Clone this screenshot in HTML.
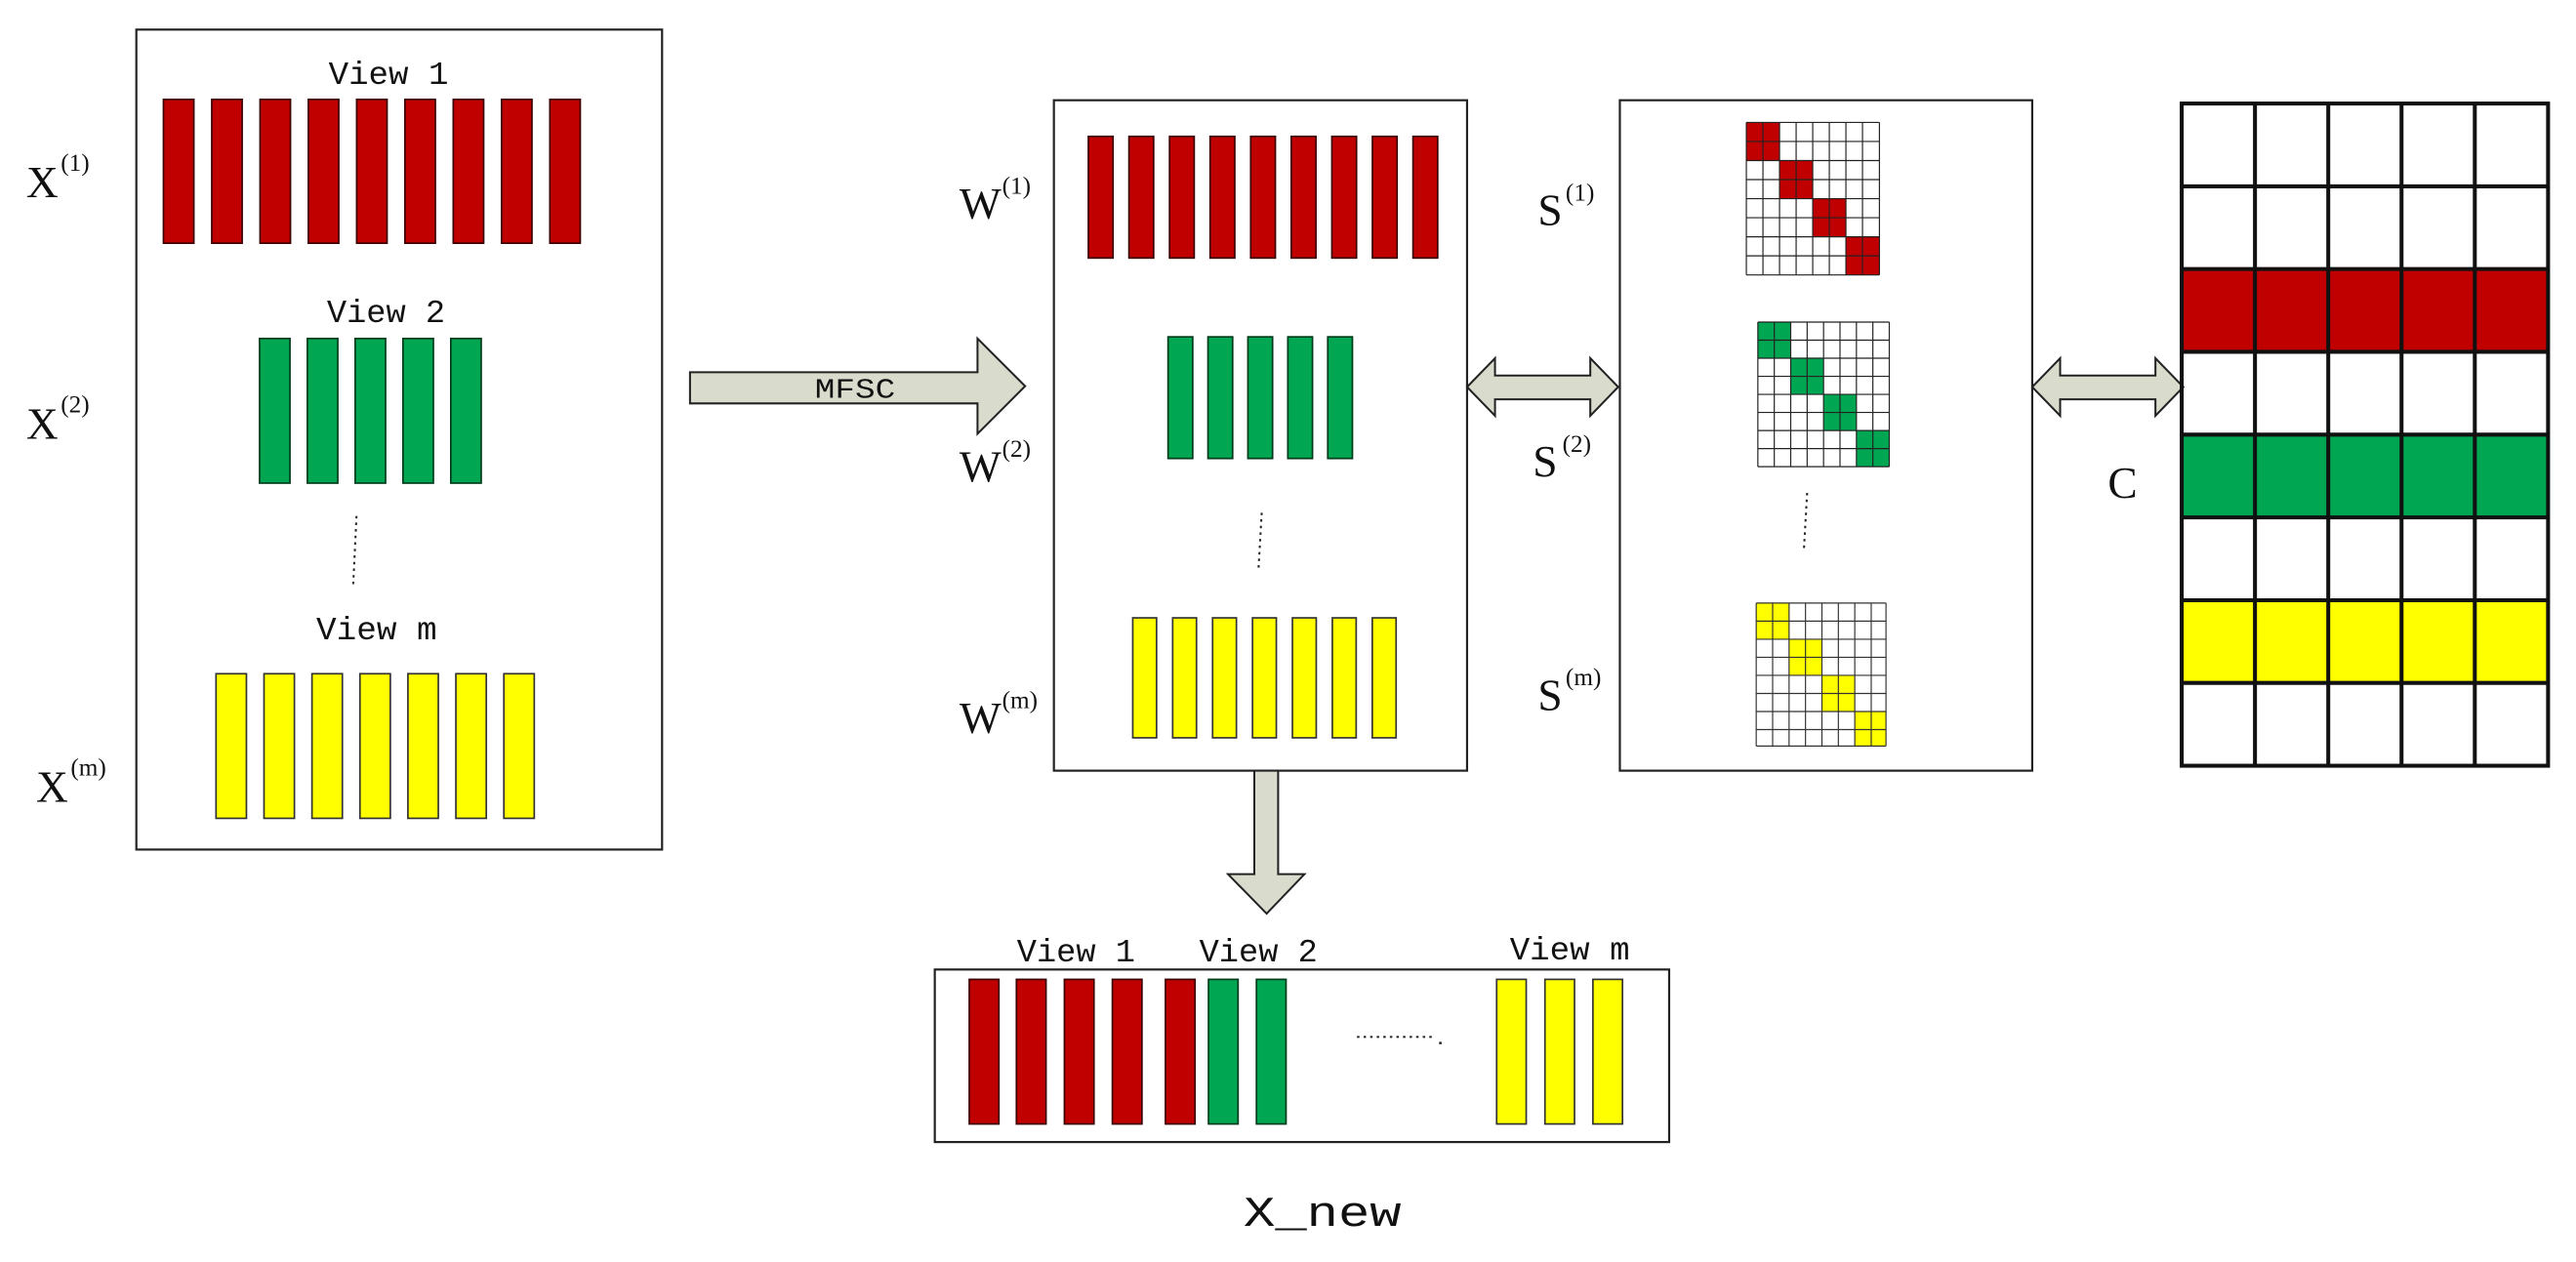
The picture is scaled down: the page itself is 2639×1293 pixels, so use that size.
<!DOCTYPE html>
<html><head><meta charset="utf-8"><style>html,body{margin:0;padding:0;background:#fff}svg{display:block}</style></head>
<body>
<svg width="2639" height="1293" viewBox="0 0 1568 768" preserveAspectRatio="none" xmlns="http://www.w3.org/2000/svg">
<defs>
<style>
.box{fill:#fff;stroke:#222;stroke-width:1.3}
.r{fill:#c00000;stroke:#3a0000;stroke-width:1}
.g{fill:#00a651;stroke:#003a1a;stroke-width:1}
.y{fill:#ffff00;stroke:#333;stroke-width:1}
.mono{font-family:"Liberation Mono",monospace;font-size:20px;fill:#111}
.ser{font-family:"Liberation Serif",serif;font-size:27px;fill:#111}
.sup{font-family:"Liberation Serif",serif;font-size:15px;fill:#111}
.arr{fill:#d9dccd;stroke:#222;stroke-width:1.2}
</style>
</defs>
<rect x="0" y="0" width="1568" height="768" fill="#fff"/>

<!-- Left box -->
<rect class="box" x="83" y="18" width="320" height="499"/>
<text class="mono" x="200" y="51" textLength="73" lengthAdjust="spacingAndGlyphs">View 1</text>
<g id="lr">
<rect class="r" x="99.5" y="60.5" width="18.5" height="87.5"/>
<rect class="r" x="128.9" y="60.5" width="18.5" height="87.5"/>
<rect class="r" x="158.3" y="60.5" width="18.5" height="87.5"/>
<rect class="r" x="187.7" y="60.5" width="18.5" height="87.5"/>
<rect class="r" x="217.1" y="60.5" width="18.5" height="87.5"/>
<rect class="r" x="246.5" y="60.5" width="18.5" height="87.5"/>
<rect class="r" x="275.9" y="60.5" width="18.5" height="87.5"/>
<rect class="r" x="305.3" y="60.5" width="18.5" height="87.5"/>
<rect class="r" x="334.7" y="60.5" width="18.5" height="87.5"/>
</g>
<text class="mono" x="199" y="196" textLength="72" lengthAdjust="spacingAndGlyphs">View 2</text>
<rect class="g" x="158" y="206" width="18.5" height="88"/>
<rect class="g" x="187.1" y="206" width="18.5" height="88"/>
<rect class="g" x="216.2" y="206" width="18.5" height="88"/>
<rect class="g" x="245.3" y="206" width="18.5" height="88"/>
<rect class="g" x="274.4" y="206" width="18.5" height="88"/>
<line x1="217" y1="314" x2="215" y2="356" stroke="#222" stroke-width="1.2" stroke-dasharray="1.5,2.5"/>
<text class="mono" x="192.5" y="389" textLength="73.5" lengthAdjust="spacingAndGlyphs">View m</text>
<rect class="y" x="131.5" y="410" width="18.5" height="88"/>
<rect class="y" x="160.7" y="410" width="18.5" height="88"/>
<rect class="y" x="189.9" y="410" width="18.5" height="88"/>
<rect class="y" x="219.1" y="410" width="18.5" height="88"/>
<rect class="y" x="248.3" y="410" width="18.5" height="88"/>
<rect class="y" x="277.5" y="410" width="18.5" height="88"/>
<rect class="y" x="306.7" y="410" width="18.5" height="88"/>
<text class="ser" x="16" y="120">X</text><text class="sup" x="37" y="104">(1)</text>
<text class="ser" x="16" y="267">X</text><text class="sup" x="37" y="251">(2)</text>
<text class="ser" x="22" y="488">X</text><text class="sup" x="43" y="472">(m)</text>

<!-- MFSC arrow -->
<polygon class="arr" points="420,226.5 595,226.5 595,206 624,235 595,264 595,245.5 420,245.5"/>
<text class="mono" x="496" y="242" textLength="49" lengthAdjust="spacingAndGlyphs" style="font-size:17px">MFSC</text>

<!-- W box -->
<rect class="box" x="641.5" y="61" width="251.5" height="408"/>
<rect class="r" x="662.5" y="83" width="15" height="74"/>
<rect class="r" x="687.2" y="83" width="15" height="74"/>
<rect class="r" x="711.9" y="83" width="15" height="74"/>
<rect class="r" x="736.6" y="83" width="15" height="74"/>
<rect class="r" x="761.3" y="83" width="15" height="74"/>
<rect class="r" x="786" y="83" width="15" height="74"/>
<rect class="r" x="810.7" y="83" width="15" height="74"/>
<rect class="r" x="835.4" y="83" width="15" height="74"/>
<rect class="r" x="860.1" y="83" width="15" height="74"/>
<rect class="g" x="711" y="205" width="15" height="74"/>
<rect class="g" x="735.3" y="205" width="15" height="74"/>
<rect class="g" x="759.6" y="205" width="15" height="74"/>
<rect class="g" x="783.9" y="205" width="15" height="74"/>
<rect class="g" x="808.2" y="205" width="15" height="74"/>
<line x1="768" y1="312" x2="766" y2="347" stroke="#222" stroke-width="1.2" stroke-dasharray="1.5,2.5"/>
<rect class="y" x="689.5" y="376" width="14.5" height="73"/>
<rect class="y" x="713.8" y="376" width="14.5" height="73"/>
<rect class="y" x="738.1" y="376" width="14.5" height="73"/>
<rect class="y" x="762.4" y="376" width="14.5" height="73"/>
<rect class="y" x="786.7" y="376" width="14.5" height="73"/>
<rect class="y" x="811" y="376" width="14.5" height="73"/>
<rect class="y" x="835.3" y="376" width="14.5" height="73"/>
<text class="ser" x="584" y="133">W</text><text class="sup" x="610" y="118">(1)</text>
<text class="ser" x="584" y="293">W</text><text class="sup" x="610" y="278">(2)</text>
<text class="ser" x="584" y="446">W</text><text class="sup" x="610" y="431">(m)</text>

<!-- double arrows -->
<polygon class="arr" points="893,235.5 910,218 910,228.5 968,228.5 968,218 985,235.5 968,253 968,243 910,243 910,253"/>
<polygon class="arr" points="1237,235.5 1254,218 1254,228.5 1312,228.5 1312,218 1329,235.5 1312,253 1312,243 1254,243 1254,253"/>

<!-- S box -->
<rect class="box" x="986" y="61" width="251" height="408"/>
<g id="mats" stroke="#222" stroke-width="0.7" fill="none"></g>
<line x1="1100" y1="300" x2="1098" y2="335" stroke="#222" stroke-width="1.2" stroke-dasharray="1.5,2.5"/>
<text class="ser" x="936" y="137">S</text><text class="sup" x="953" y="122">(1)</text>
<text class="ser" x="933" y="290">S</text><text class="sup" x="951" y="275">(2)</text>
<text class="ser" x="936" y="432">S</text><text class="sup" x="953" y="417">(m)</text>

<!-- red matrix -->
<g>
<rect x="1063" y="74.5" width="20.2" height="23.2" fill="#c00000"/>
<rect x="1083.2" y="97.7" width="20.2" height="23.2" fill="#c00000"/>
<rect x="1103.4" y="120.9" width="20.2" height="23.2" fill="#c00000"/>
<rect x="1123.6" y="144.1" width="20.4" height="23.2" fill="#c00000"/>
<g stroke="#222" stroke-width="0.7">
<path d="M1063 74.5V167.3M1073.1 74.5V167.3M1083.2 74.5V167.3M1093.3 74.5V167.3M1103.4 74.5V167.3M1113.5 74.5V167.3M1123.6 74.5V167.3M1133.7 74.5V167.3M1144 74.5V167.3"/>
<path d="M1063 74.5H1144M1063 86.1H1144M1063 97.7H1144M1063 109.3H1144M1063 120.9H1144M1063 132.5H1144M1063 144.1H1144M1063 155.7H1144M1063 167.3H1144"/>
</g>
</g>
<!-- green matrix -->
<g>
<rect x="1070" y="196" width="20" height="22" fill="#00a651"/>
<rect x="1090" y="218" width="20" height="22" fill="#00a651"/>
<rect x="1110" y="240" width="20" height="22" fill="#00a651"/>
<rect x="1130" y="262" width="20" height="22" fill="#00a651"/>
<g stroke="#222" stroke-width="0.7">
<path d="M1070 196V284M1080 196V284M1090 196V284M1100 196V284M1110 196V284M1120 196V284M1130 196V284M1140 196V284M1150 196V284"/>
<path d="M1070 196H1150M1070 207H1150M1070 218H1150M1070 229H1150M1070 240H1150M1070 251H1150M1070 262H1150M1070 273H1150M1070 284H1150"/>
</g>
</g>
<!-- yellow matrix -->
<g>
<rect x="1069" y="367" width="20" height="22" fill="#ffff00"/>
<rect x="1089" y="389" width="20" height="22" fill="#ffff00"/>
<rect x="1109" y="411" width="20" height="22" fill="#ffff00"/>
<rect x="1129" y="433" width="19" height="21" fill="#ffff00"/>
<g stroke="#333" stroke-width="0.7">
<path d="M1069 367V454M1079 367V454M1089 367V454M1099 367V454M1109 367V454M1119 367V454M1129 367V454M1139 367V454M1148 367V454"/>
<path d="M1069 367H1148M1069 378H1148M1069 389H1148M1069 400H1148M1069 411H1148M1069 422H1148M1069 433H1148M1069 444H1148M1069 454H1148"/>
</g>
</g>

<!-- C grid -->
<rect x="1328" y="163.7" width="223" height="50.4" fill="#c00000"/>
<rect x="1328" y="264.5" width="223" height="50.4" fill="#00a651"/>
<rect x="1328" y="365.3" width="223" height="50.4" fill="#ffff00"/>
<g stroke="#111" stroke-width="2.4" fill="none">
<rect x="1328" y="63" width="223" height="403"/>
<path d="M1372.6 63V466M1417.2 63V466M1461.8 63V466M1506.4 63V466"/>
<path d="M1328 113.4H1551M1328 163.7H1551M1328 214.1H1551M1328 264.5H1551M1328 314.9H1551M1328 365.3H1551M1328 415.6H1551"/>
</g>
<text class="ser" x="1283" y="303">C</text>

<!-- down arrow -->
<polygon class="arr" points="763.5,469 778,469 778,532 794,532 771,556 747.5,532 763.5,532"/>

<!-- bottom box -->
<text class="mono" x="619" y="585" textLength="72" lengthAdjust="spacingAndGlyphs">View 1</text>
<text class="mono" x="730" y="585" textLength="72" lengthAdjust="spacingAndGlyphs">View 2</text>
<text class="mono" x="919" y="584" textLength="73" lengthAdjust="spacingAndGlyphs">View m</text>
<rect class="box" x="569" y="590" width="447" height="105"/>
<rect class="r" x="590" y="596" width="18" height="88"/>
<rect class="r" x="618.7" y="596" width="18" height="88"/>
<rect class="r" x="647.9" y="596" width="18" height="88"/>
<rect class="r" x="677.1" y="596" width="18" height="88"/>
<rect class="r" x="709.4" y="596" width="18" height="88"/>
<rect class="g" x="735.6" y="596" width="18" height="88"/>
<rect class="g" x="764.8" y="596" width="18" height="88"/>
<rect class="y" x="911" y="596" width="18" height="88"/>
<rect class="y" x="940.4" y="596" width="18" height="88"/>
<rect class="y" x="969.6" y="596" width="18" height="88"/>
<line x1="826" y1="631" x2="874" y2="631" stroke="#222" stroke-width="1.2" stroke-dasharray="1.5,2.5"/>
<rect x="876" y="634" width="1.5" height="1.5" fill="#222"/>
<text class="mono" x="757" y="746" textLength="96" lengthAdjust="spacingAndGlyphs" style="font-size:26px">X_new</text>
</svg>
</body></html>
